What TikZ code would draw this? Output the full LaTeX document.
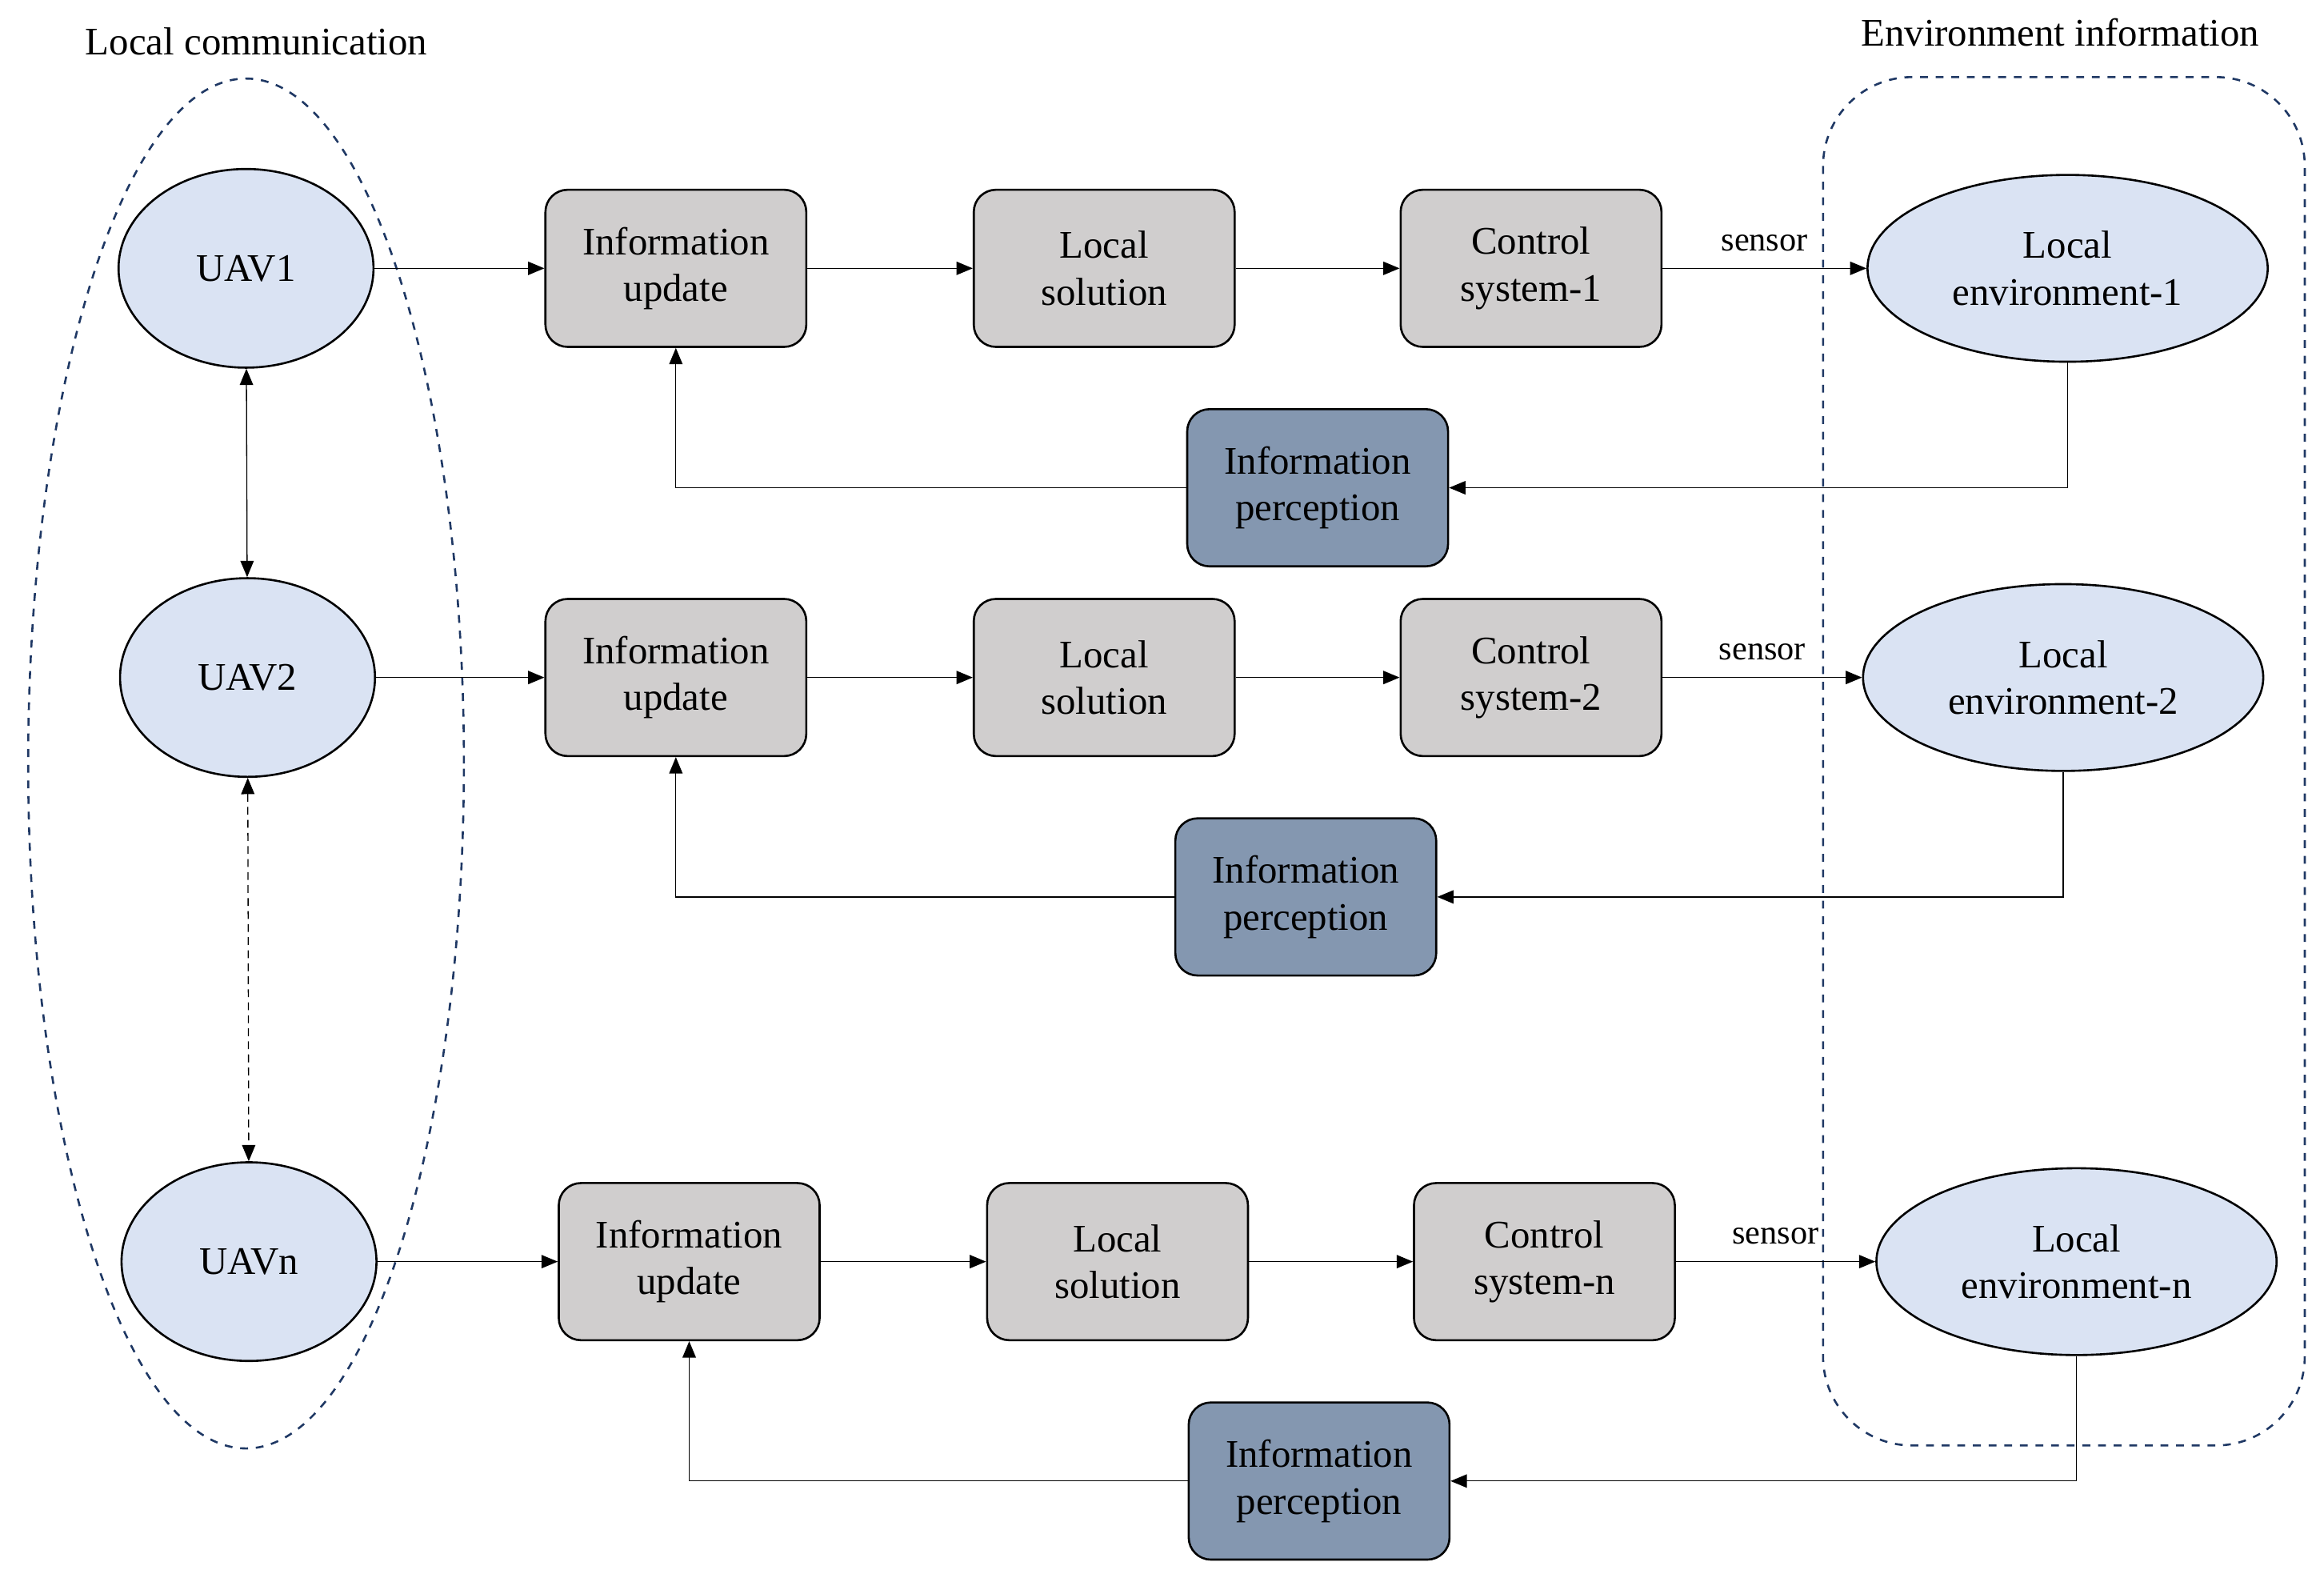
\documentclass[tikz,border=0pt]{standalone}
\usepackage{fontspec}
\setmainfont{Liberation Serif}
\usetikzlibrary{arrows.meta,shapes.geometric,positioning}
\definecolor{uavblue}{HTML}{DAE3F3}
\definecolor{boxgray}{HTML}{D0CECE}
\definecolor{percblue}{HTML}{8497B0}
\definecolor{navy}{HTML}{1F3864}
\tikzset{
  uav/.style={ellipse,draw,thick,fill=uavblue,inner sep=0pt,minimum width=34.4mm,minimum height=26.8mm,font=\fontsize{15}{18}\selectfont},
  env/.style={ellipse,draw,thick,fill=uavblue,inner sep=0pt,minimum width=54mm,minimum height=25.2mm,align=center,font=\fontsize{15}{18}\selectfont},
  blk/.style={rectangle,rounded corners=3mm,draw,thick,fill=boxgray,inner sep=0pt,minimum width=35.2mm,minimum height=21.2mm,align=center,font=\fontsize{15}{18}\selectfont},
  perc/.style={blk,fill=percblue},
  arr/.style={-{Triangle[length=2.2mm,width=1.8mm]}},
  darr/.style={{Triangle[length=2.2mm,width=1.8mm]}-{Triangle[length=2.2mm,width=1.8mm]}},
}
\begin{document}
\begin{tikzpicture}[x=0.2mm,y=0.2mm]
\useasboundingbox (0,0) rectangle (1568,-1064);
% groups
\draw[navy,thick,dashed] (166,-515) ellipse [x radius=147,y radius=462];
\draw[navy,thick,dashed,rounded corners=12mm] (1230,-52) rectangle (1555,-975);
\node[font=\fontsize{15}{18}\selectfont] (lc) at (173,-28) {Local communication};
\node[font=\fontsize{15}{18}\selectfont] (ei) at (1390,-22) {Environment information};
% UAVs
\node[uav] (uav1) at (166,-181) {UAV1};
\node[uav] (uav2) at (167,-457) {UAV2};
\node[uav] (uavn) at (168,-851) {UAVn};
\draw[darr] (uav1) -- (uav2);
\draw[darr,densely dashed] (uav2) -- (uavn);
% rows
\foreach \r/\u/\x/\y/\s/\e/\px in {1/uav1/456/-181/1/1395/889, 2/uav2/456/-457/2/1392/881, n/uavn/465/-851/n/1401/890}{
  \node[blk] (iu\r) at (\x,\y) {Information\\update};
  \node[blk] (ls\r) at (\x+289,\y) {Local\\solution};
  \node[blk] (cs\r) at (\x+577,\y) {Control\\system-\s};
  \node[env] (le\r) at (\e,\y) {Local\\environment-\s};
  \node[perc] (ip\r) at (\px,\y-148) {Information\\perception};
  \draw[arr] (\u) -- (iu\r);
  \draw[arr] (iu\r) -- (ls\r);
  \draw[arr] (ls\r) -- (cs\r);
  \draw[arr] (cs\r) -- node[above=3pt,font=\fontsize{13}{15}\selectfont] {sensor} (le\r);
  \draw[arr] (le\r.south) |- (ip\r.east);
  \draw[arr] (ip\r.west) -| (iu\r.south);
}
\end{tikzpicture}
\end{document}
